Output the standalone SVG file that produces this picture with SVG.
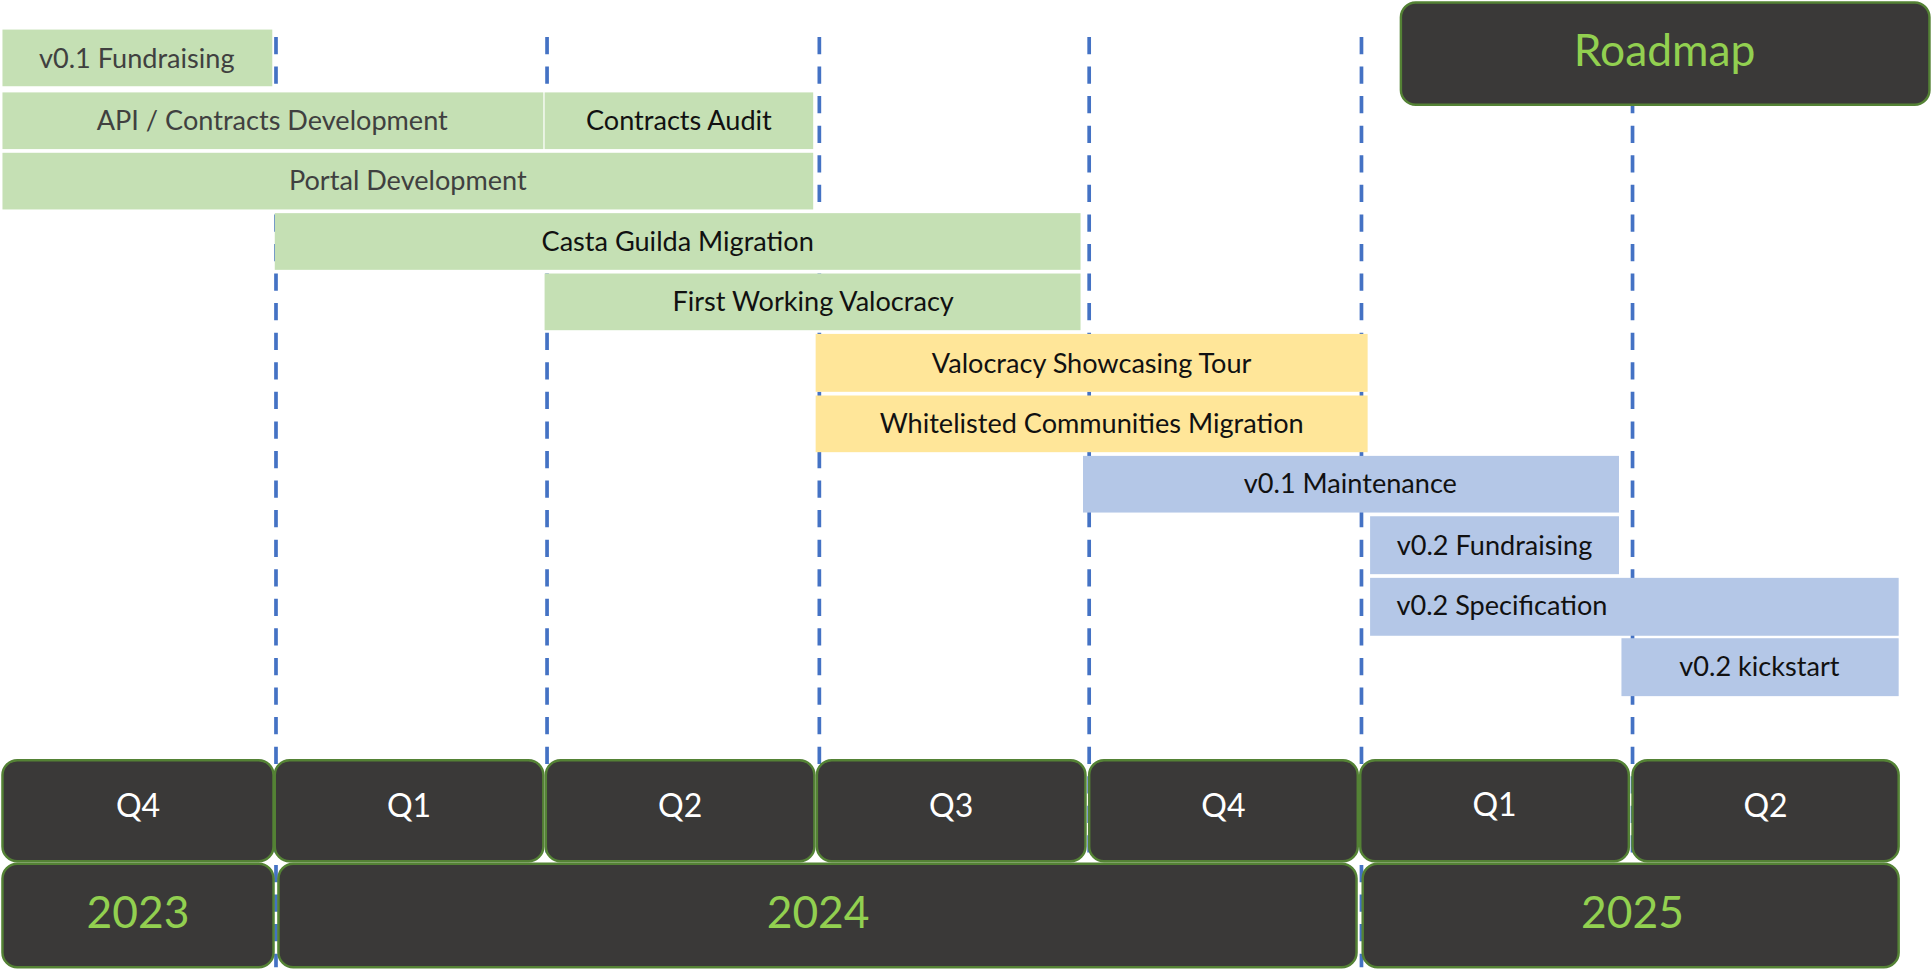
<svg xmlns="http://www.w3.org/2000/svg" width="1932" height="970" viewBox="0 0 1932 970">
<style>
.g{fill:#C5E0B4}.y{fill:#FFE699}.b{fill:#B4C7E7}
.t{font-family:Lato,"Open Sans",sans-serif;font-size:22px;text-anchor:middle;dominant-baseline:central;fill:#111}
.gt{fill:#404040}
.d{fill:#3A3938;stroke:#548235;stroke-width:2}
.q{font-family:Lato,"Open Sans",sans-serif;font-size:26px;text-anchor:middle;dominant-baseline:central;fill:#fff}
.yr{font-family:Lato,"Open Sans",sans-serif;font-size:36px;text-anchor:middle;dominant-baseline:central;fill:#92D050}
.dl{stroke:#4472C4;stroke-width:3;stroke-dasharray:14,10;fill:none}
</style>
<rect width="1932" height="970" fill="#fff"/>
<g transform="scale(1.2321)">
<g id="connectors">
<path class="dl" d="M224 30V785M444 30V785M665 30V785M884 30V785M1105 30V785M1325 30V785"/>
</g>
<g id="n1"><rect class="g" x="2" y="24" width="219" height="46"/><text class="t gt" x="111" y="47">v0.1 Fundraising</text></g>
<g id="n2"><rect class="g" x="2" y="75" width="439" height="46"/><text class="t gt" x="221" y="97">API / Contracts Development</text></g>
<g id="n3"><rect class="g" x="442" y="75" width="218" height="46"/><text class="t" x="551" y="97">Contracts Audit</text></g>
<g id="n4"><rect class="g" x="2" y="124" width="658" height="46"/><text class="t gt" x="331" y="146">Portal Development</text></g>
<g id="n5"><rect class="g" x="223" y="173" width="654" height="46"/><text class="t" x="550" y="195">Casta Guilda Migration</text></g>
<g id="n6"><rect class="g" x="442" y="222" width="435" height="46"/><text class="t" x="660" y="244">First Working Valocracy</text></g>
<g id="n7"><rect class="y" x="662" y="271" width="448" height="47"/><text class="t" x="886" y="294">Valocracy Showcasing Tour</text></g>
<g id="n8"><rect class="y" x="662" y="321" width="448" height="46"/><text class="t" x="886" y="343">Whitelisted Communities Migration</text></g>
<g id="n9"><rect class="b" x="879" y="370" width="435" height="46"/><text class="t" x="1096" y="392">v0.1 Maintenance</text></g>
<g id="n10"><rect class="b" x="1112" y="419" width="202" height="47"/><text class="t" x="1213" y="442">v0.2 Fundraising</text></g>
<g id="n11"><rect class="b" x="1112" y="469" width="429" height="47"/><text class="t" x="1219" y="491">v0.2 Specification</text></g>
<g id="n12"><rect class="b" x="1316" y="518" width="225" height="47"/><text class="t" x="1428" y="540">v0.2 kickstart</text></g>
<g id="roadmap"><rect class="d" x="1137" y="2" width="429" height="83" rx="12"/><text class="yr" x="1351" y="39">Roadmap</text></g>
<g id="q1"><rect class="d" x="2" y="617" width="220" height="82" rx="12"/><text class="q" x="112" y="653">Q4</text></g>
<g id="q2"><rect class="d" x="223" y="617" width="218" height="82" rx="12"/><text class="q" x="332" y="653">Q1</text></g>
<g id="q3"><rect class="d" x="443" y="617" width="218" height="82" rx="12"/><text class="q" x="552" y="653">Q2</text></g>
<g id="q4"><rect class="d" x="663" y="617" width="218" height="82" rx="12"/><text class="q" x="772" y="653">Q3</text></g>
<g id="q5"><rect class="d" x="884" y="617" width="218" height="82" rx="12"/><text class="q" x="993" y="653">Q4</text></g>
<g id="q6"><rect class="d" x="1104" y="617" width="218" height="82" rx="12"/><text class="q" x="1213" y="652">Q1</text></g>
<g id="q7"><rect class="d" x="1325" y="617" width="216" height="82" rx="12"/><text class="q" x="1433" y="653">Q2</text></g>
<g id="y1"><rect class="d" x="2" y="701" width="220" height="84" rx="12"/><text class="yr" x="112" y="739">2023</text></g>
<g id="y2"><rect class="d" x="226" y="701" width="875" height="84" rx="12"/><text class="yr" x="664" y="739">2024</text></g>
<g id="y3"><rect class="d" x="1106" y="701" width="435" height="84" rx="12"/><text class="yr" x="1325" y="739">2025</text></g>
</g>
</svg>
